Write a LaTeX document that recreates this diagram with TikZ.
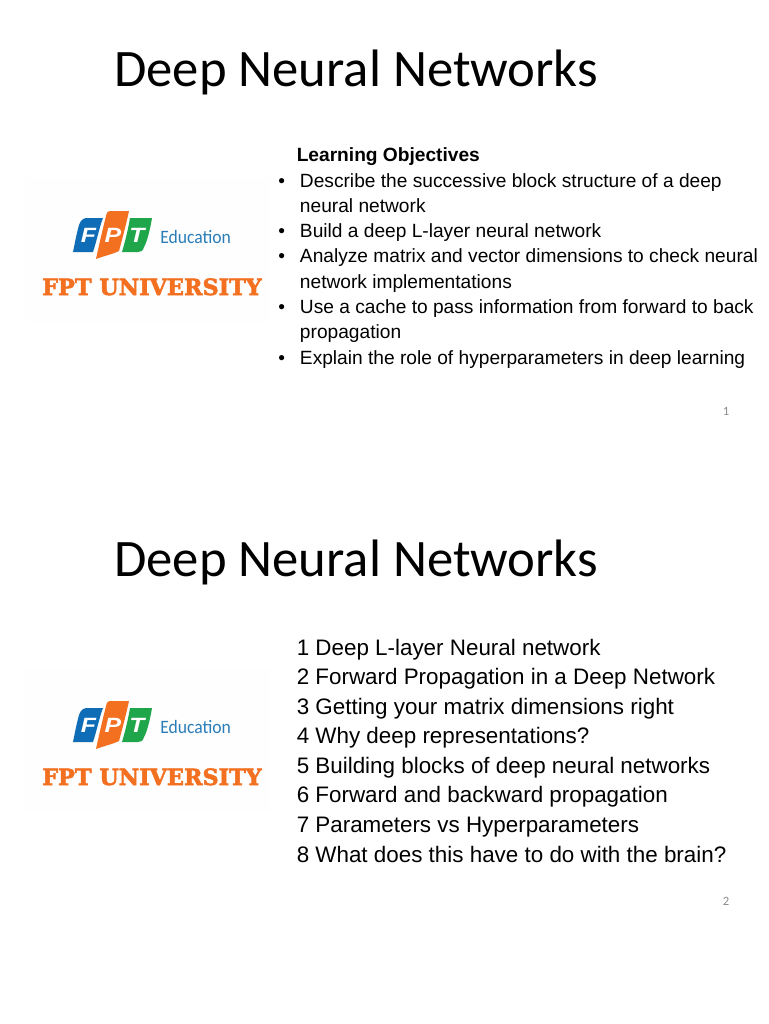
\documentclass[tikz,border=0pt]{standalone}
\usepackage{fontspec}
\setmainfont{Liberation Sans}
\newfontfamily\carlito{Carlito}
\newfontfamily\slab[BoldFeatures={FakeBold=2.5}]{DejaVu Serif}
\definecolor{fptblue}{HTML}{0F6CB6}
\definecolor{fptorange}{HTML}{F37021}
\definecolor{fptgreen}{HTML}{1FA64A}
\definecolor{edublue}{HTML}{2A7DB8}
\definecolor{pagegray}{HTML}{8C8C8C}
\definecolor{logobg}{HTML}{FEFEFE}
\tikzset{
  x=0.75pt,y=-0.75pt,
  titletext/.style={anchor=base west,inner sep=0pt,font=\carlito\fontsize{39.5pt}{42pt}\selectfont,text=black},
  smalltext/.style={anchor=base west,inner sep=0pt,font=\fontsize{14.37pt}{18pt}\selectfont,text=black},
  largetext/.style={anchor=base west,inner sep=0pt,font=\fontsize{16.8pt}{20pt}\selectfont,text=black},
  pagenum/.style={anchor=base west,inner sep=0pt,font=\carlito\fontsize{9.5pt}{11pt}\selectfont,text=pagegray},
  fptletter/.style={inner sep=0pt,text=white,xscale=1.2,font=\bfseries\itshape\fontsize{15.5pt}{18pt}\selectfont},
  logo/.pic={
    \fill[logobg] (25,178) rectangle (270,322);
    \fill[fptblue] (79,225) .. controls (81,219) and (84,218) .. (88,218) -- (103,218)
      .. controls (100,225) and (97,240) .. (93,252) -- (73,252) .. controls (75,242) and (77,232) .. (79,225) -- cycle;
    \fill[fptorange] (110,211) -- (129,211) .. controls (126,225) and (122,240) .. (119,251)
      .. controls (113,254) and (104,256) .. (96,259) .. controls (99,245) and (103,228) .. (106,216) .. controls (107,212) and (108,211) .. (110,211) -- cycle;
    \fill[fptgreen] (130,218) -- (152,218) .. controls (150,230) and (147,242) .. (144,247) .. controls (143,251) and (141,252) .. (138,252)
      -- (122,252) .. controls (125,242) and (128,230) .. (130,218) -- cycle;
    \node[fptletter] (-f) at (88.5,235.5) {F};
    \node[fptletter] (-p) at (113,235.5) {P};
    \node[fptletter] (-t) at (137,235.5) {T};
    \node[inner sep=0pt,text=edublue,anchor=base west,xscale=0.93,font=\carlito\fontsize{14.2pt}{16pt}\selectfont] (-edu) at (160,243) {Education};
    \node[inner sep=0pt,text=fptorange,anchor=base west,font=\slab\bfseries\fontsize{16.75pt}{18pt}\selectfont] (-uni) at (42,295) {FPT UNIVERSITY};
  }
}
\begin{document}
\begin{tikzpicture}
\useasboundingbox (0,0) rectangle (768,1024);
\fill[white] (0,0) rectangle (768,1024);
\node[titletext] (t1) at (114,86.7) {Deep Neural Networks};
\pic (l1) at (0,0) {logo};
\node[smalltext,font=\bfseries\fontsize{14.37pt}{18pt}\selectfont] (h) at (296.5,161.5) {Learning Objectives};
\foreach \n/\yy in {a/187,c/237.5,d/262.5,f/313,h/364}{
  \node[smalltext] (dot\n) at (278,\yy) {•};
}
\node[smalltext] (o1) at (299.7,187) {Describe the successive block structure of a deep};
\node[smalltext] (o2) at (299.7,212) {neural network};
\node[smalltext] (o3) at (299.7,237.5) {Build a deep L-layer neural network};
\node[smalltext] (o4) at (299.7,262.5) {Analyze matrix and vector dimensions to check neural};
\node[smalltext] (o5) at (299.7,288) {network implementations};
\node[smalltext] (o6) at (299.7,313) {Use a cache to pass information from forward to back};
\node[smalltext] (o7) at (299.7,338.5) {propagation};
\node[smalltext] (o8) at (299.7,364) {Explain the role of hyperparameters in deep learning};
\node[pagenum] (p1) at (722.5,415) {1};

\node[titletext] (t2) at (114,576.7) {Deep Neural Networks};
\pic (l2) at (0,490) {logo};
\node[largetext] (m1) at (296.5,655) {1 Deep L-layer Neural network};
\node[largetext] (m2) at (296.5,684.5) {2 Forward Propagation in a Deep Network};
\node[largetext] (m3) at (296.5,714) {3 Getting your matrix dimensions right};
\node[largetext] (m4) at (296.5,743.5) {4 Why deep representations?};
\node[largetext] (m5) at (296.5,773) {5 Building blocks of deep neural networks};
\node[largetext] (m6) at (296.5,802.5) {6 Forward and backward propagation};
\node[largetext] (m7) at (296.5,832) {7 Parameters vs Hyperparameters};
\node[largetext] (m8) at (296.5,862) {8 What does this have to do with the brain?};
\node[pagenum] (p2) at (722.5,905) {2};
\end{tikzpicture}
\end{document}
